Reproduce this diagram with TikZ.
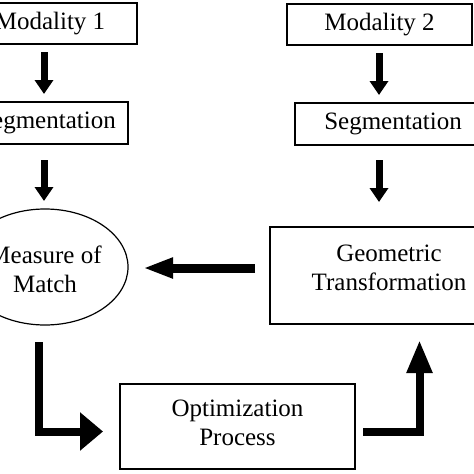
\documentclass[tikz,border=0pt]{standalone}
\usepackage{fontspec}
\setmainfont{Liberation Serif}
\usetikzlibrary{arrows.meta,calc,shapes.geometric}
\begin{document}
\begin{tikzpicture}[x=1pt,y=-1pt,
  box/.style={draw,line width=1.2pt,inner sep=0pt,outer sep=0pt,font=\fontsize{25}{29}\selectfont,align=center},
  txt/.style={inner sep=0pt,font=\fontsize{25}{29}\selectfont,align=center},
  blk/.style={line width=7pt,-{Triangle[width=18pt,length=14pt]}},
  lblk/.style={line width=8pt,line join=miter}]
\useasboundingbox (0,0) rectangle (474,474);
\node[box,minimum width=174pt,minimum height=41pt] (m1) at (50,23.5) {Modality 1};
\node[box,minimum width=162pt,minimum height=42pt] (s1) at (47,123) {Segmentation};
\node[box,ellipse,minimum width=166pt,minimum height=116pt] (ell) at (45,267) {};
\node[txt] (ellt) at (45,269.5) {Measure of\\Match};
\node[box,minimum width=185pt,minimum height=41pt] (m2) at (379.5,24.5) {Modality 2};
\node[box,minimum width=196pt,minimum height=42pt] (s2) at (393,124) {Segmentation};
\node[box,minimum width=238pt,minimum height=97pt] (gt) at (389,275.5) {};
\node[txt] (gtt) at (389,267.5) {Geometric\\Transformation};
\node[box,minimum width=235pt,minimum height=85pt] (op) at (237.5,426.5) {};
\node[txt] (opt) at (237.5,422.5) {Optimization\\Process};
\draw[blk] ($(m1.south)+(-6,8)$) -- ($(s1.north)+(-3,-8)$);
\draw[blk] ($(s1.south)+(-3,16)$) -- ($(ell.north)+(-1,-8)$);
\draw[blk] ($(m2.south)+(-0.5,8)$) -- ($(s2.north)+(-14,-8)$);
\draw[blk] ($(s2.south)+(-14,15)$) -- ($(gt.north)+(-10,-25)$);
\draw[line width=9pt,-{Triangle[width=19pt,length=30pt]}] ($(gt.west)+(-15,-7.5)$) -- ($(ell.east)+(15,1)$);
\draw[lblk,-{Triangle[width=37pt,length=23pt]}] ($(ell.south)+(-6,17)$) |- ($(op.west)+(-17,5)$);
\draw[lblk,-{Triangle[width=24pt,length=33pt]}] ($(op.east)+(8,5)$) -| ($(gt.south)+(30.5,16)$);
\end{tikzpicture}
\end{document}
